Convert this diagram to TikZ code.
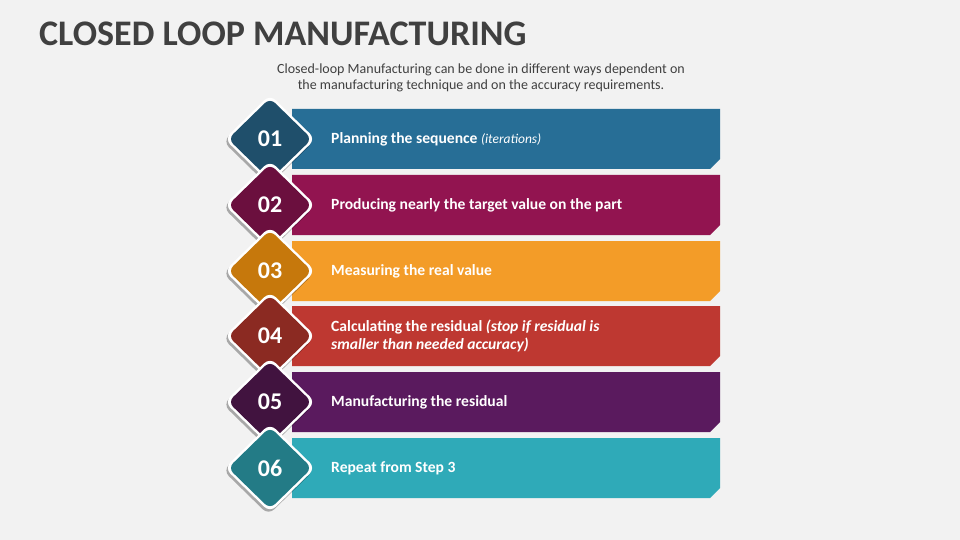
\documentclass[tikz,border=0pt]{standalone}
\usepackage{fontspec}
\setmainfont{Carlito}
\usetikzlibrary{shapes.geometric,shadows}
\definecolor{bg}{HTML}{F2F2F2}
\definecolor{titlec}{HTML}{404040}
\definecolor{b1}{HTML}{276E96}\definecolor{d1}{HTML}{1F4F6B}
\definecolor{b2}{HTML}{921450}\definecolor{d2}{HTML}{6B0F3E}
\definecolor{b3}{HTML}{F39C28}\definecolor{d3}{HTML}{C6780C}
\definecolor{b4}{HTML}{BE3831}\definecolor{d4}{HTML}{8B2A22}
\definecolor{b5}{HTML}{5A1A5E}\definecolor{d5}{HTML}{41133F}
\definecolor{b6}{HTML}{2FAAB8}\definecolor{d6}{HTML}{237B86}
\tikzset{
  rim/.style={shape=diamond, fill=white, inner sep=0pt, minimum width=91pt, minimum height=89pt, rounded corners=8pt,
    drop shadow={shadow xshift=-1.5pt, shadow yshift=-2.5pt, opacity=0.3, fill=black}},
  gem/.style={shape=diamond, inner sep=0pt, minimum width=84pt, minimum height=82pt, rounded corners=7pt},
  numtxt/.style={text=white, font=\bfseries\fontsize{24}{26}\selectfont},
  bandtxt/.style={anchor=west, inner sep=0pt, text=white, align=left, font=\bfseries\fontsize{15.6}{18.5}\selectfont}
}
\begin{document}
\begin{tikzpicture}[x=1pt,y=-1pt]
\useasboundingbox (0,0) rectangle (960,540);
\fill[bg] (0,0) rectangle (960,540);
\node[anchor=west, inner sep=0pt, text=titlec, font=\bfseries\fontsize{36}{40}\selectfont] (title) at (39,34) {CLOSED LOOP MANUFACTURING};
\node[align=center, inner sep=0pt, text=titlec, font=\fontsize{14}{16}\selectfont] (sub) at (481,78) {Closed-loop Manufacturing can be done in different ways dependent on\\the manufacturing technique and on the accuracy requirements.};
\foreach \y/\n/\t in {
  139/1/{Planning the sequence {\mdseries\itshape\fontsize{13.5}{16}\selectfont(iterations)}},
  205/2/{Producing nearly the target value on the part},
  271/3/{Measuring the real value},
  336/4/{Calculating the residual {\itshape(stop if residual is}\\{\itshape smaller than needed accuracy)}},
  402/5/{Manufacturing the residual},
  468/6/{Repeat from Step 3}}{
  \fill[b\n] (292,\y-30) -- (720,\y-30) -- (720,\y+20) -- (710,\y+30) -- (292,\y+30) -- cycle;
  \node[bandtxt] (t\n) at (331,\y) {\t};
  \node[rim] (w\n) at (270,\y) {};
  \node[gem, fill=d\n] (g\n) at (270,\y) {};
  \node[numtxt] (n\n) at (g\n) {0\n};
}
\end{tikzpicture}
\end{document}
